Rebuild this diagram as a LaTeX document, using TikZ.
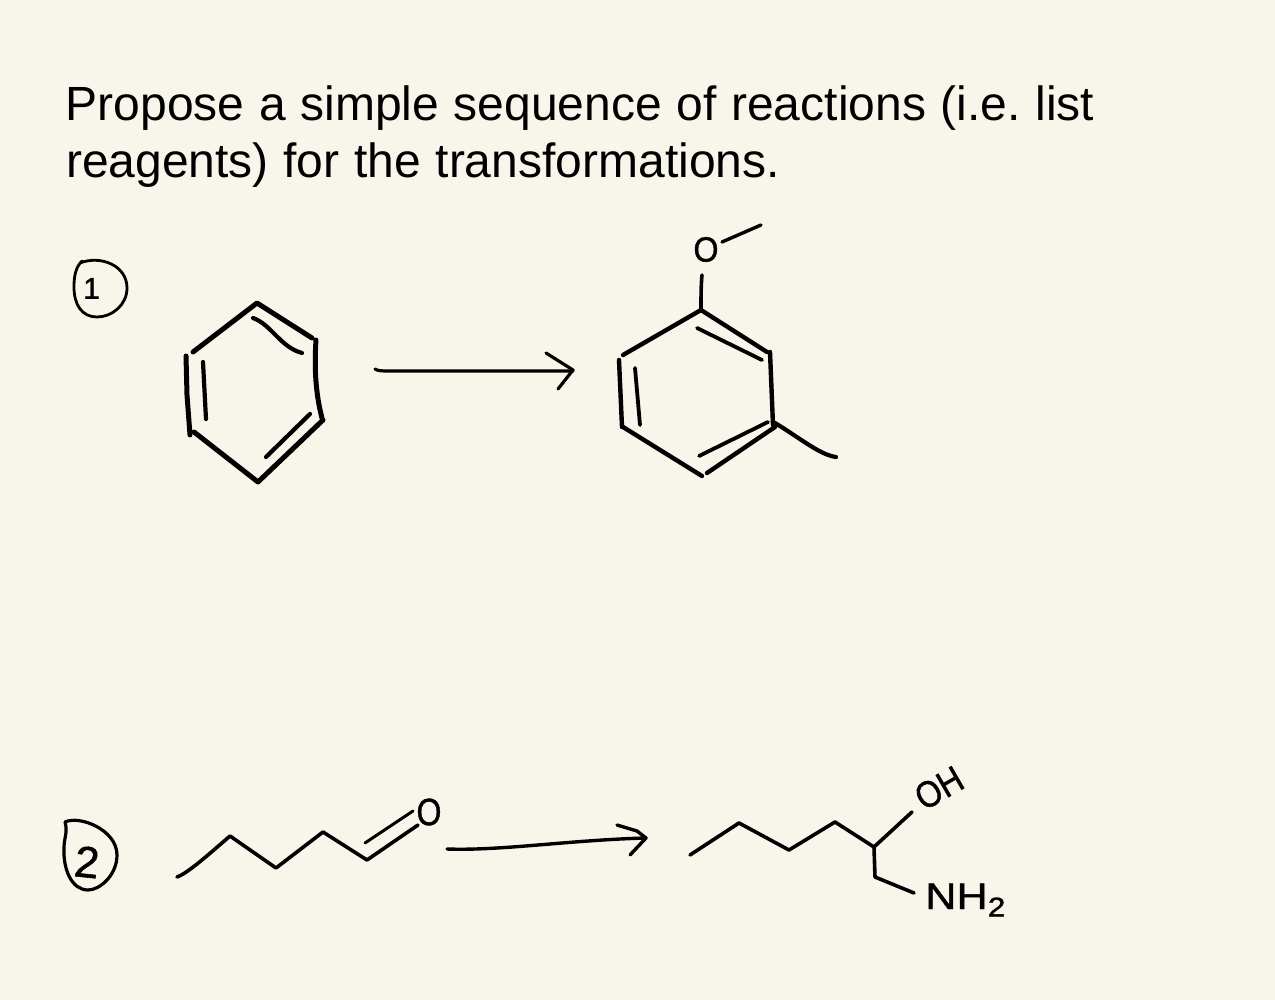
\documentclass[tikz,border=0pt]{standalone}
\usepackage{fontspec}
\setmainfont{Liberation Sans}
\newfontfamily\handfont[FakeBold=1.2]{Liberation Sans}
\newfontfamily\headfont[WordSpace=1.1]{Liberation Sans}
\definecolor{paper}{RGB}{248,246,234}
\tikzset{
  pen/.style={line width=#1,line cap=round,line join=round,black},
  pen/.default=4pt,
  heading/.style={anchor=base west,inner sep=0pt,font=\headfont\fontsize{48}{57}\selectfont\frenchspacing,text=black},
  hand/.style={inner sep=0pt,font=\handfont\fontsize{#1}{#1}\selectfont,text=black},
}
\begin{document}
\begin{tikzpicture}[x=1pt,y=-1pt]
\fill[paper] (0,0) rectangle (1275,1000);
\useasboundingbox (0,0) rectangle (1275,1000);
% heading
\node[heading] (line1) at (65.5,121) {Propose a simple sequence of reactions (i.e. list};
\node[heading] (line2) at (66,178) {reagents) for the transformations.};
% label 1
\draw[pen=2.8pt] (80,263) .. controls (100,255) and (127,265) .. (127,288) .. controls (127,305) and (112,317) .. (97,317) .. controls (82,317) and (74,305) .. (74,287) .. controls (74,275) and (76,267) .. (82,261);
\node[hand=30] (n1) at (91.5,288.5) {1};
% benzene
\draw[pen=5pt] (193,352) -- (257,303) -- (312,338);
\draw[pen=5pt] (186,356) -- (187,395) -- (190,435);
\draw[pen=5pt] (194,432) -- (258,482) -- (323,420);
\draw[pen=5pt] (316,340) .. controls (314,370) and (316,395) .. (322,418);
\draw[pen=4.2pt] (203,362) -- (206,419);
\draw[pen=4.2pt] (253,318) .. controls (272,325) and (280,347) .. (302,353);
\draw[pen=4.2pt] (310,414) -- (266,457);
% arrow 1
\draw[pen=3.2pt] (375,369) .. controls (378,371) and (382,371) .. (390,371) -- (573,371);
\draw[pen=3.2pt] (546,353) -- (573,370) -- (558,389);
% product 1
\node[hand=35,xscale=0.92] (o1) at (706,249.5) {O};
\draw[pen=3.4pt] (722,242) -- (761,225);
\draw[pen=3.6pt] (702,275) .. controls (701,285) and (701,297) .. (701,309);
\draw[pen=4.4pt] (623,355) -- (701,310) -- (767,352);
\draw[pen=4.4pt] (619,360) -- (622,427);
\draw[pen=4.4pt] (623,427) -- (702,476);
\draw[pen=4.4pt] (707,473) -- (775,427);
\draw[pen=4.4pt] (770,352) -- (773,425);
\draw[pen=3.8pt] (697,328) -- (762,360);
\draw[pen=3.8pt] (635,368) -- (640,425);
\draw[pen=3.8pt] (699,456) -- (768,422);
\draw[pen=4.2pt] (775,423) .. controls (800,438) and (820,455) .. (836,457);
% label 2
\draw[pen=3.2pt] (65,822) .. controls (80,815) and (117,830) .. (117,855) .. controls (117,875) and (100,890) .. (88,890) .. controls (72,890) and (63,870) .. (64,848) .. controls (64,838) and (68,832) .. (65,822);
\node[hand=44,rotate=-6] (n2) at (87,862) {2};
% aldehyde
\draw[pen=3.6pt] (177,877) .. controls (188,873) and (208,855) .. (230,836) -- (276,868) -- (323,832) -- (367,860) -- (418,825);
\draw[pen=3pt] (365,843) -- (413,811);
\node[hand=38,xscale=0.84] (o2) at (429,812) {O};
% arrow 2
\draw[pen=3.4pt] (447,849) .. controls (500,851) and (570,840) .. (646,838);
\draw[pen=3.4pt] (617,825) -- (637,831) -- (646,838) -- (630,855);
% product 2
\draw[pen=3.6pt] (690,855) -- (739,823) -- (789,850) -- (835,822) -- (874,847) -- (912,812);
\draw[pen=3.6pt] (874,847) -- (875,877) -- (914,893);
\node[hand=37,rotate=30,xscale=0.88] (oh) at (939,788) {OH};
\node[hand=37,xscale=1.17,anchor=base west] (nh) at (925,909) {NH\raisebox{-0.2em}{\fontsize{27}{27}\selectfont 2}};
\end{tikzpicture}
\end{document}
